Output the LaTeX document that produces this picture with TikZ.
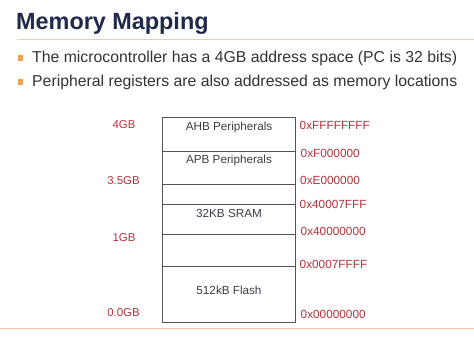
\documentclass[tikz,border=0pt]{standalone}
\usepackage{fontspec}
\setmainfont{Liberation Sans}
\definecolor{navy}{HTML}{1F2A48}
\definecolor{txt}{HTML}{333333}
\definecolor{boxtxtc}{HTML}{3A3E48}
\definecolor{redlab}{HTML}{B5333A}
\definecolor{bulletc}{HTML}{F0A050}
\definecolor{sepline}{HTML}{E2D2B4}
\definecolor{botline}{HTML}{F2C49E}
\definecolor{boxline}{HTML}{555555}
\begin{document}
\begin{tikzpicture}[x=1pt,y=-1pt,
  region/.style={draw=boxline, line width=0.9pt, minimum width=133pt, inner sep=0pt, anchor=north west},
  boxtxt/.style={text=boxtxtc, font=\fontsize{11.7}{14}\selectfont, inner sep=0pt},
  leftlab/.style={text=redlab, font=\fontsize{11.4}{13}\selectfont, inner sep=0pt},
  addr/.style={text=redlab, font=\fontsize{11.8}{14}\selectfont, inner sep=0pt, anchor=west},
  bul/.style={fill=bulletc, minimum size=5.5pt, inner sep=0pt},
  bultxt/.style={text=txt, font=\fontsize{15.8}{18}\selectfont, inner sep=0pt, anchor=west}]
\useasboundingbox (0,0) rectangle (474,355);
\fill[white] (0,0) rectangle (474,355);
% title
\node[text=navy, font=\fontsize{23.4}{28}\selectfont\bfseries, anchor=base west, inner sep=0pt] (title) at (16,30) {Memory Mapping};
\coordinate (sepL) at (17,40);
\coordinate (sepR) at (474,40);
\draw[sepline, line width=1pt] (sepL) -- (sepR);
% bullets
\node[bul] (b1) at (20.5,58) {};
\node[bultxt] (t1) at (32,58) {The microcontroller has a 4GB address space (PC is 32 bits)};
\node[bul] (b2) at (20.5,82) {};
\node[bultxt] (t2) at (32,82) {Peripheral registers are also addressed as memory locations};
% memory map
\node[region, minimum height=34pt] (r1) at (162,117) {};
\node[region, minimum height=33pt] (r2) at (162,151) {};
\node[region, minimum height=20pt] (r3) at (162,184) {};
\node[region, minimum height=30pt] (r4) at (162,204) {};
\node[region, minimum height=32pt] (r5) at (162,234) {};
\node[region, minimum height=56pt] (r6) at (162,266) {};
\node[boxtxt] (l1) at (229,127) {AHB Peripherals};
\node[boxtxt] (l2) at (229,160.5) {APB Peripherals};
\node[boxtxt] (l4) at (229,213) {32KB SRAM};
\node[boxtxt] (l6) at (229,290) {512kB Flash};
% left labels
\node[leftlab] (g4) at (124,125) {4GB};
\node[leftlab] (g35) at (123.5,181) {3.5GB};
\node[leftlab] (g1) at (124,238) {1GB};
\node[leftlab] (g0) at (123.5,313) {0.0GB};
% addresses
\node[addr] (a1) at (299.5,125) {0xFFFFFFFF};
\node[addr] (a2) at (300.5,153) {0xF000000};
\node[addr] (a3) at (300,180) {0xE000000};
\node[addr] (a4) at (299.5,204) {0x40007FFF};
\node[addr] (a5) at (300.5,231) {0x40000000};
\node[addr] (a6) at (299.5,264) {0x0007FFFF};
\node[addr] (a7) at (300.5,314) {0x00000000};
% bottom line
\coordinate (botL) at (0,329);
\coordinate (botR) at (474,329);
\draw[botline, line width=1pt] (botL) -- (botR);
\end{tikzpicture}
\end{document}
